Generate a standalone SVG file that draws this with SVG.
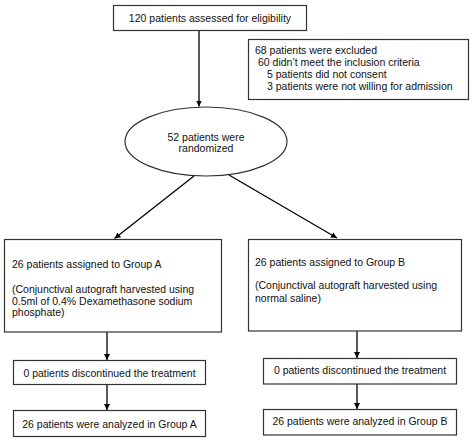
<svg xmlns="http://www.w3.org/2000/svg" width="474" height="442" viewBox="0 0 474 442">
<defs>
<marker id="ah" markerWidth="6" markerHeight="6" refX="6" refY="3" orient="auto" markerUnits="userSpaceOnUse">
<path d="M0,0 L6,3 L0,6 Z" fill="#000"/>
</marker>
<style>
.box{fill:#fff;stroke:#333;stroke-width:1.2}
.t{font-family:"Liberation Sans",Arial,sans-serif;font-size:10.5px;fill:#111}
.c{text-anchor:middle}
.ln{stroke:#000;stroke-width:1.3;fill:none;marker-end:url(#ah)}
</style>
</defs>
<rect width="474" height="442" fill="#fff"/>
<g id="connectors">
<line class="ln" x1="199" y1="30" x2="199" y2="106.5"/>
<line class="ln" x1="194" y1="176" x2="114.5" y2="238.5"/>
<line class="ln" x1="229" y1="175" x2="337" y2="238"/>
<line class="ln" x1="107" y1="332" x2="107" y2="360"/>
<line class="ln" x1="107" y1="384" x2="107" y2="410"/>
<line class="ln" x1="357" y1="331" x2="357" y2="358"/>
<line class="ln" x1="357" y1="384" x2="357" y2="409"/>
</g>
<g id="assessed">
<rect class="box" x="113.5" y="5.5" width="193" height="25"/>
<text class="t c" x="210" y="22">120 patients assessed for eligibility</text>
</g>
<g id="excluded">
<rect class="box" x="248.5" y="39.5" width="220" height="60"/>
<text class="t" x="255" y="54">68 patients were excluded</text>
<text class="t" x="258" y="66">60 didn’t meet the inclusion criteria</text>
<text class="t" x="267" y="78">5 patients did not consent</text>
<text class="t" x="267" y="90">3 patients were not willing for admission</text>
</g>
<g id="randomized">
<ellipse class="box" cx="206" cy="141.5" rx="81" ry="34.5"/>
<text class="t c" x="206" y="140.5">52 patients were</text>
<text class="t c" x="206" y="151.5">randomized</text>
</g>
<g id="groupA">
<rect class="box" x="4.5" y="239.5" width="217" height="92.5"/>
<text class="t" x="12" y="268">26 patients assigned to Group A</text>
<text class="t" x="12" y="293">(Conjunctival autograft harvested using</text>
<text class="t" x="12" y="304.5">0.5ml of 0.4% Dexamethasone sodium</text>
<text class="t" x="12" y="316">phosphate)</text>
</g>
<g id="groupB">
<rect class="box" x="248.5" y="239.5" width="213" height="91.5"/>
<text class="t" x="255" y="265.5">26 patients assigned to Group B</text>
<text class="t" x="255" y="289">(Conjunctival autograft harvested using</text>
<text class="t" x="255" y="302">normal saline)</text>
</g>
<g id="discA">
<rect class="box" x="13.5" y="360.5" width="192" height="24"/>
<text class="t c" x="109.5" y="376.5">0 patients discontinued the treatment</text>
</g>
<g id="analyzedA">
<rect class="box" x="13.5" y="410.5" width="192" height="26"/>
<text class="t c" x="109.5" y="427.5">26 patients were analyzed in Group A</text>
</g>
<g id="discB">
<rect class="box" x="263.5" y="358.5" width="193" height="25.5"/>
<text class="t c" x="360" y="373.5">0 patients discontinued the treatment</text>
</g>
<g id="analyzedB">
<rect class="box" x="263.5" y="409.5" width="193" height="25.5"/>
<text class="t c" x="360" y="424.5">26 patients were analyzed in Group B</text>
</g>
</svg>
